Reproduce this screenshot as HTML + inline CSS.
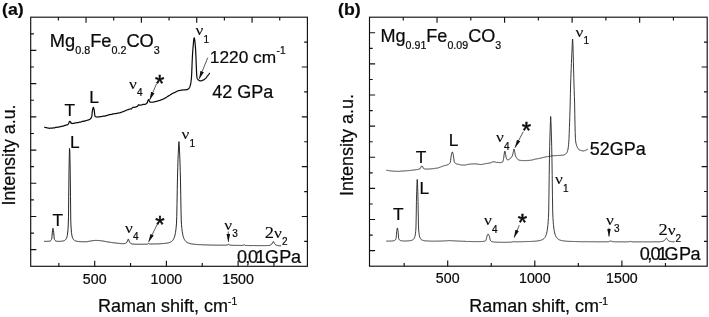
<!DOCTYPE html>
<html lang="en"><head><meta charset="utf-8"><title>Raman spectra</title>
<style>html,body{margin:0;padding:0;background:#fff;}svg{display:block;}text{font-family:"Liberation Sans",Arial,sans-serif;fill:#0a0a0a;stroke:#0a0a0a;stroke-width:0.22px;}.s{font-family:"Liberation Serif","DejaVu Serif",serif;stroke-width:0.1px;}</style></head><body>
<svg width="709" height="317" viewBox="0 0 709 317">
<rect width="709" height="317" fill="#fff"/>
<defs><marker id="ah" viewBox="0 0 10 10" refX="9.5" refY="5" markerWidth="8.4" markerHeight="8.4" orient="auto" markerUnits="userSpaceOnUse"><path d="M0,2.8 L10,5 L0,7.2 Z" fill="#111"/></marker></defs>
<g stroke="#111" stroke-width="1.15" fill="none" stroke-linecap="butt">
<rect x="30.70" y="17.20" width="276.70" height="249.10"/>
<path d="M58.85,266.30 v-3.20 M94.70,266.30 v-5.60 M130.55,266.30 v-3.20 M166.40,266.30 v-5.60 M202.25,266.30 v-3.20 M238.10,266.30 v-5.60 M273.95,266.30 v-3.20 M58.37,17.20 v3.20 M86.04,17.20 v5.60 M113.71,17.20 v3.20 M141.38,17.20 v5.60 M169.05,17.20 v3.20 M196.72,17.20 v5.60 M224.39,17.20 v3.20 M252.06,17.20 v5.60 M279.73,17.20 v3.20 M30.70,33.81 h3.20 M30.70,50.41 h5.60 M30.70,67.02 h3.20 M30.70,83.63 h5.60 M30.70,100.23 h3.20 M30.70,116.84 h5.60 M30.70,133.45 h3.20 M30.70,150.05 h5.60 M30.70,166.66 h3.20 M30.70,183.27 h5.60 M30.70,199.87 h3.20 M30.70,216.48 h5.60 M30.70,233.09 h3.20 M30.70,249.69 h5.60 M307.40,42.11 h-3.20 M307.40,67.02 h-5.60 M307.40,91.93 h-3.20 M307.40,116.84 h-5.60 M307.40,141.75 h-3.20 M307.40,166.66 h-5.60 M307.40,191.57 h-3.20 M307.40,216.48 h-5.60 M307.40,241.39 h-3.20"/>
</g>
<g stroke="#111" stroke-width="1.15" fill="none" stroke-linecap="butt">
<rect x="369.50" y="17.20" width="337.70" height="249.00"/>
<path d="M404.15,266.20 v-3.20 M447.70,266.20 v-5.60 M491.25,266.20 v-3.20 M534.80,266.20 v-5.60 M578.35,266.20 v-3.20 M621.90,266.20 v-5.60 M665.45,266.20 v-3.20 M403.27,17.20 v3.20 M437.04,17.20 v5.60 M470.81,17.20 v3.20 M504.58,17.20 v5.60 M538.35,17.20 v3.20 M572.12,17.20 v5.60 M605.89,17.20 v3.20 M639.66,17.20 v5.60 M673.43,17.20 v3.20 M369.50,32.76 h5.60 M369.50,48.33 h3.20 M369.50,63.89 h5.60 M369.50,79.45 h3.20 M369.50,95.01 h5.60 M369.50,110.58 h3.20 M369.50,126.14 h5.60 M369.50,141.70 h3.20 M369.50,157.26 h5.60 M369.50,172.82 h3.20 M369.50,188.39 h5.60 M369.50,203.95 h3.20 M369.50,219.51 h5.60 M369.50,235.07 h3.20 M369.50,250.64 h5.60 M707.20,42.10 h-3.20 M707.20,67.00 h-5.60 M707.20,91.90 h-3.20 M707.20,116.80 h-5.60 M707.20,141.70 h-3.20 M707.20,166.60 h-5.60 M707.20,191.50 h-3.20 M707.20,216.40 h-5.60 M707.20,241.30 h-3.20"/>
</g>
<g stroke="#1a1a1a" stroke-width="0.95" fill="none" stroke-linejoin="round" stroke-linecap="round">
<path d="M44.50,241.35 L44.75,241.35 L45.00,241.34 L45.25,241.31 L45.50,241.32 L45.75,241.31 L46.00,241.30 L46.25,241.36 L46.50,241.36 L46.75,241.39 L47.00,241.38 L47.25,241.38 L47.50,241.30 L47.75,241.28 L48.00,241.28 L48.25,241.26 L48.50,241.27 L48.75,241.25 L49.00,241.23 L49.25,241.20 L49.50,241.17 L49.75,241.08 L50.00,241.00 L50.25,240.91 L50.50,240.78 L50.75,240.59 L51.00,240.35 L51.25,240.03 L51.50,239.53 L51.75,238.77 L52.00,236.28 L52.25,232.95 L52.50,230.79 L52.75,229.34 L53.00,228.31 L53.25,229.31 L53.50,230.76 L53.75,232.88 L54.00,236.23 L54.25,238.79 L54.50,239.50 L54.75,239.99 L55.00,240.35 L55.25,240.59 L55.50,240.79 L55.75,240.94 L56.00,241.07 L56.25,241.17 L56.50,241.23 L56.75,241.24 L57.00,241.28 L57.25,241.32 L57.50,241.33 L57.75,241.34 L58.00,241.37 L58.25,241.33 L58.50,241.34 L58.75,241.36 L59.00,241.35 L59.25,241.34 L59.50,241.36 L59.75,241.36 L60.00,241.31 L60.25,241.31 L60.50,241.30 L60.75,241.32 L61.00,241.25 L61.25,241.25 L61.50,241.25 L61.75,241.20 L62.00,241.17 L62.25,241.14 L62.50,241.11 L62.75,241.04 L63.00,241.02 L63.25,240.93 L63.50,240.87 L63.75,240.76 L64.00,240.71 L64.25,240.59 L64.50,240.48 L64.75,240.36 L65.00,240.22 L65.25,239.99 L65.50,239.73 L65.75,239.42 L66.00,239.08 L66.25,238.64 L66.50,238.12 L66.75,237.47 L67.00,236.65 L67.25,235.55 L67.50,234.08 L67.75,232.04 L68.00,229.18 L68.25,224.96 L68.50,216.18 L68.75,191.05 L69.00,170.81 L69.25,157.49 L69.50,148.42 L69.75,149.95 L70.00,159.67 L70.25,174.11 L70.50,196.41 L70.75,220.06 L71.00,225.99 L71.25,229.95 L71.50,232.65 L71.75,234.57 L72.00,235.91 L72.25,236.94 L72.50,237.69 L72.75,238.30 L73.00,238.74 L73.25,239.20 L73.50,239.55 L73.75,239.82 L74.00,240.02 L74.25,240.24 L74.50,240.39 L74.75,240.53 L75.00,240.71 L75.25,240.83 L75.50,240.95 L75.75,241.04 L76.00,241.13 L76.25,241.18 L76.50,241.26 L76.75,241.29 L77.00,241.33 L77.25,241.33 L77.50,241.39 L77.75,241.41 L78.00,241.46 L78.25,241.48 L78.50,241.53 L78.75,241.52 L79.00,241.52 L79.25,241.55 L79.50,241.62 L79.75,241.63 L80.00,241.65 L80.25,241.66 L80.50,241.64 L80.75,241.63 L81.00,241.66 L81.25,241.67 L81.50,241.71 L81.75,241.74 L82.00,241.74 L82.25,241.71 L82.50,241.71 L82.75,241.71 L83.00,241.70 L83.25,241.69 L83.50,241.70 L83.75,241.71 L84.00,241.72 L84.25,241.73 L84.50,241.73 L84.75,241.76 L85.00,241.77 L85.25,241.78 L85.50,241.75 L85.75,241.77 L86.00,241.74 L86.25,241.73 L86.50,241.70 L86.75,241.72 L87.00,241.70 L87.25,241.67 L87.50,241.65 L87.75,241.59 L88.00,241.52 L88.25,241.46 L88.50,241.40 L88.75,241.35 L89.00,241.32 L89.25,241.30 L89.50,241.23 L89.75,241.18 L90.00,241.10 L90.25,241.04 L90.50,240.96 L90.75,240.93 L91.00,240.90 L91.25,240.89 L91.50,240.84 L91.75,240.84 L92.00,240.79 L92.25,240.74 L92.50,240.67 L92.75,240.64 L93.00,240.59 L93.25,240.59 L93.50,240.58 L93.75,240.57 L94.00,240.59 L94.25,240.57 L94.50,240.54 L94.75,240.51 L95.00,240.46 L95.25,240.43 L95.50,240.39 L95.75,240.39 L96.00,240.38 L96.25,240.43 L96.50,240.42 L96.75,240.43 L97.00,240.44 L97.25,240.44 L97.50,240.43 L97.75,240.45 L98.00,240.48 L98.25,240.49 L98.50,240.51 L98.75,240.53 L99.00,240.52 L99.25,240.54 L99.50,240.56 L99.75,240.61 L100.00,240.67 L100.25,240.70 L100.50,240.73 L100.75,240.78 L101.00,240.78 L101.25,240.80 L101.50,240.85 L101.75,240.85 L102.00,240.88 L102.25,240.92 L102.50,240.95 L102.75,240.97 L103.00,241.04 L103.25,241.10 L103.50,241.12 L103.75,241.15 L104.00,241.21 L104.25,241.24 L104.50,241.30 L104.75,241.36 L105.00,241.40 L105.25,241.44 L105.50,241.49 L105.75,241.55 L106.00,241.59 L106.25,241.65 L106.50,241.72 L106.75,241.76 L107.00,241.80 L107.25,241.84 L107.50,241.89 L107.75,241.93 L108.00,241.98 L108.25,241.96 L108.50,242.04 L108.75,242.06 L109.00,242.09 L109.25,242.11 L109.50,242.15 L109.75,242.17 L110.00,242.22 L110.25,242.27 L110.50,242.34 L110.75,242.40 L111.00,242.43 L111.25,242.46 L111.50,242.49 L111.75,242.51 L112.00,242.54 L112.25,242.60 L112.50,242.62 L112.75,242.64 L113.00,242.69 L113.25,242.74 L113.50,242.75 L113.75,242.78 L114.00,242.81 L114.25,242.85 L114.50,242.83 L114.75,242.87 L115.00,242.92 L115.25,242.94 L115.50,242.98 L115.75,243.05 L116.00,243.07 L116.25,243.08 L116.50,243.10 L116.75,243.11 L117.00,243.16 L117.25,243.19 L117.50,243.25 L117.75,243.30 L118.00,243.36 L118.25,243.36 L118.50,243.37 L118.75,243.36 L119.00,243.40 L119.25,243.39 L119.50,243.40 L119.75,243.46 L120.00,243.49 L120.25,243.48 L120.50,243.51 L120.75,243.56 L121.00,243.57 L121.25,243.61 L121.50,243.67 L121.75,243.70 L122.00,243.67 L122.25,243.67 L122.50,243.65 L122.75,243.64 L123.00,243.64 L123.25,243.66 L123.50,243.67 L123.75,243.66 L124.00,243.63 L124.25,243.59 L124.50,243.54 L124.75,243.48 L125.00,243.42 L125.25,243.35 L125.50,243.26 L125.75,243.19 L126.00,243.08 L126.25,242.96 L126.50,242.76 L126.75,242.47 L127.00,242.07 L127.25,241.56 L127.50,240.86 L127.75,240.14 L128.00,239.50 L128.25,239.11 L128.50,239.28 L128.75,239.85 L129.00,240.59 L129.25,241.30 L129.50,241.92 L129.75,242.40 L130.00,242.75 L130.25,243.00 L130.50,243.25 L130.75,243.44 L131.00,243.55 L131.25,243.68 L131.50,243.78 L131.75,243.81 L132.00,243.88 L132.25,243.94 L132.50,244.02 L132.75,244.04 L133.00,244.07 L133.25,244.10 L133.50,244.11 L133.75,244.10 L134.00,244.12 L134.25,244.17 L134.50,244.16 L134.75,244.18 L135.00,244.14 L135.25,244.13 L135.50,244.15 L135.75,244.15 L136.00,244.15 L136.25,244.17 L136.50,244.20 L136.75,244.18 L137.00,244.18 L137.25,244.20 L137.50,244.23 L137.75,244.23 L138.00,244.22 L138.25,244.27 L138.50,244.26 L138.75,244.26 L139.00,244.24 L139.25,244.24 L139.50,244.23 L139.75,244.22 L140.00,244.24 L140.25,244.25 L140.50,244.28 L140.75,244.27 L141.00,244.27 L141.25,244.22 L141.50,244.22 L141.75,244.21 L142.00,244.19 L142.25,244.20 L142.50,244.22 L142.75,244.21 L143.00,244.17 L143.25,244.19 L143.50,244.18 L143.75,244.17 L144.00,244.15 L144.25,244.16 L144.50,244.16 L144.75,244.16 L145.00,244.14 L145.25,244.18 L145.50,244.20 L145.75,244.18 L146.00,244.17 L146.25,244.19 L146.50,244.15 L146.75,244.12 L147.00,244.06 L147.25,244.03 L147.50,243.95 L147.75,243.89 L148.00,243.72 L148.25,243.59 L148.50,243.46 L148.75,243.46 L149.00,243.56 L149.25,243.74 L149.50,243.85 L149.75,243.90 L150.00,243.95 L150.25,243.99 L150.50,244.02 L150.75,244.02 L151.00,244.04 L151.25,244.05 L151.50,244.05 L151.75,244.01 L152.00,243.99 L152.25,243.99 L152.50,243.97 L152.75,243.94 L153.00,243.95 L153.25,243.97 L153.50,243.95 L153.75,243.97 L154.00,243.95 L154.25,243.95 L154.50,243.91 L154.75,243.90 L155.00,243.89 L155.25,243.91 L155.50,243.88 L155.75,243.89 L156.00,243.91 L156.25,243.89 L156.50,243.89 L156.75,243.91 L157.00,243.89 L157.25,243.87 L157.50,243.85 L157.75,243.86 L158.00,243.85 L158.25,243.87 L158.50,243.87 L158.75,243.86 L159.00,243.85 L159.25,243.81 L159.50,243.79 L159.75,243.79 L160.00,243.77 L160.25,243.74 L160.50,243.74 L160.75,243.74 L161.00,243.75 L161.25,243.75 L161.50,243.73 L161.75,243.68 L162.00,243.64 L162.25,243.58 L162.50,243.55 L162.75,243.54 L163.00,243.53 L163.25,243.50 L163.50,243.49 L163.75,243.46 L164.00,243.44 L164.25,243.45 L164.50,243.41 L164.75,243.36 L165.00,243.36 L165.25,243.32 L165.50,243.25 L165.75,243.23 L166.00,243.22 L166.25,243.17 L166.50,243.15 L166.75,243.13 L167.00,243.12 L167.25,243.10 L167.50,243.06 L167.75,243.02 L168.00,242.98 L168.25,242.90 L168.50,242.80 L168.75,242.73 L169.00,242.64 L169.25,242.57 L169.50,242.47 L169.75,242.41 L170.00,242.30 L170.25,242.22 L170.50,242.08 L170.75,241.94 L171.00,241.80 L171.25,241.63 L171.50,241.44 L171.75,241.25 L172.00,241.05 L172.25,240.84 L172.50,240.58 L172.75,240.29 L173.00,239.96 L173.25,239.60 L173.50,239.13 L173.75,238.65 L174.00,238.11 L174.25,237.50 L174.50,236.76 L174.75,235.93 L175.00,234.93 L175.25,233.77 L175.50,232.38 L175.75,230.70 L176.00,228.67 L176.25,226.19 L176.50,223.06 L176.75,216.68 L177.00,204.44 L177.25,189.57 L177.50,177.14 L177.75,167.73 L178.00,159.82 L178.25,153.42 L178.50,148.11 L178.75,143.69 L179.00,141.64 L179.25,145.37 L179.50,150.16 L179.75,155.86 L180.00,162.90 L180.25,171.44 L180.50,181.94 L180.75,195.52 L181.00,209.84 L181.25,221.01 L181.50,224.53 L181.75,227.38 L182.00,229.71 L182.25,231.59 L182.50,233.17 L182.75,234.51 L183.00,235.63 L183.25,236.61 L183.50,237.43 L183.75,238.10 L184.00,238.73 L184.25,239.27 L184.50,239.69 L184.75,240.06 L185.00,240.41 L185.25,240.72 L185.50,240.99 L185.75,241.29 L186.00,241.58 L186.25,241.80 L186.50,241.98 L186.75,242.18 L187.00,242.35 L187.25,242.50 L187.50,242.64 L187.75,242.77 L188.00,242.87 L188.25,242.99 L188.50,243.12 L188.75,243.22 L189.00,243.26 L189.25,243.34 L189.50,243.40 L189.75,243.45 L190.00,243.54 L190.25,243.63 L190.50,243.68 L190.75,243.75 L191.00,243.77 L191.25,243.82 L191.50,243.87 L191.75,243.94 L192.00,243.97 L192.25,244.04 L192.50,244.07 L192.75,244.10 L193.00,244.12 L193.25,244.15 L193.50,244.17 L193.75,244.20 L194.00,244.24 L194.25,244.26 L194.50,244.27 L194.75,244.28 L195.00,244.30 L195.25,244.32 L195.50,244.37 L195.75,244.41 L196.00,244.43 L196.25,244.41 L196.50,244.45 L196.75,244.46 L197.00,244.45 L197.25,244.49 L197.50,244.55 L197.75,244.57 L198.00,244.58 L198.25,244.66 L198.50,244.68 L198.75,244.65 L199.00,244.66 L199.25,244.66 L199.50,244.64 L199.75,244.59 L200.00,244.63 L200.25,244.63 L200.50,244.65 L200.75,244.66 L201.00,244.72 L201.25,244.72 L201.50,244.73 L201.75,244.74 L202.00,244.78 L202.25,244.77 L202.50,244.81 L202.75,244.83 L203.00,244.82 L203.25,244.84 L203.50,244.84 L203.75,244.84 L204.00,244.84 L204.25,244.86 L204.50,244.82 L204.75,244.83 L205.00,244.84 L205.25,244.86 L205.50,244.86 L205.75,244.88 L206.00,244.91 L206.25,244.88 L206.50,244.86 L206.75,244.87 L207.00,244.87 L207.25,244.86 L207.50,244.88 L207.75,244.91 L208.00,244.91 L208.25,244.96 L208.50,244.99 L208.75,245.02 L209.00,245.03 L209.25,245.03 L209.50,244.99 L209.75,244.97 L210.00,244.92 L210.25,244.92 L210.50,244.95 L210.75,245.00 L211.00,245.03 L211.25,245.05 L211.50,245.07 L211.75,245.05 L212.00,245.05 L212.25,245.03 L212.50,245.07 L212.75,245.11 L213.00,245.14 L213.25,245.17 L213.50,245.18 L213.75,245.16 L214.00,245.15 L214.25,245.16 L214.50,245.12 L214.75,245.13 L215.00,245.11 L215.25,245.09 L215.50,245.08 L215.75,245.10 L216.00,245.09 L216.25,245.09 L216.50,245.11 L216.75,245.11 L217.00,245.13 L217.25,245.14 L217.50,245.15 L217.75,245.18 L218.00,245.17 L218.25,245.16 L218.50,245.17 L218.75,245.16 L219.00,245.13 L219.25,245.13 L219.50,245.15 L219.75,245.16 L220.00,245.21 L220.25,245.18 L220.50,245.18 L220.75,245.18 L221.00,245.16 L221.25,245.14 L221.50,245.14 L221.75,245.16 L222.00,245.17 L222.25,245.16 L222.50,245.16 L222.75,245.22 L223.00,245.16 L223.25,245.15 L223.50,245.19 L223.75,245.21 L224.00,245.19 L224.25,245.21 L224.50,245.24 L224.75,245.18 L225.00,245.18 L225.25,245.17 L225.50,245.16 L225.75,245.14 L226.00,245.12 L226.25,245.09 L226.50,245.05 L226.75,245.02 L227.00,244.95 L227.25,244.91 L227.50,244.81 L227.75,244.67 L228.00,244.53 L228.25,244.41 L228.50,244.40 L228.75,244.50 L229.00,244.66 L229.25,244.81 L229.50,244.92 L229.75,245.01 L230.00,245.07 L230.25,245.11 L230.50,245.18 L230.75,245.21 L231.00,245.22 L231.25,245.23 L231.50,245.24 L231.75,245.20 L232.00,245.23 L232.25,245.23 L232.50,245.27 L232.75,245.31 L233.00,245.35 L233.25,245.37 L233.50,245.38 L233.75,245.38 L234.00,245.35 L234.25,245.32 L234.50,245.32 L234.75,245.35 L235.00,245.37 L235.25,245.38 L235.50,245.43 L235.75,245.43 L236.00,245.40 L236.25,245.38 L236.50,245.37 L236.75,245.35 L237.00,245.39 L237.25,245.40 L237.50,245.40 L237.75,245.41 L238.00,245.42 L238.25,245.36 L238.50,245.37 L238.75,245.40 L239.00,245.42 L239.25,245.43 L239.50,245.44 L239.75,245.41 L240.00,245.42 L240.25,245.44 L240.50,245.41 L240.75,245.43 L241.00,245.46 L241.25,245.45 L241.50,245.43 L241.75,245.45 L242.00,245.44 L242.25,245.44 L242.50,245.42 L242.75,245.37 L243.00,245.31 L243.25,245.25 L243.50,245.15 L243.75,245.02 L244.00,244.83 L244.25,244.69 L244.50,244.80 L244.75,245.07 L245.00,245.26 L245.25,245.34 L245.50,245.41 L245.75,245.46 L246.00,245.49 L246.25,245.51 L246.50,245.52 L246.75,245.53 L247.00,245.52 L247.25,245.51 L247.50,245.47 L247.75,245.49 L248.00,245.47 L248.25,245.49 L248.50,245.49 L248.75,245.52 L249.00,245.55 L249.25,245.57 L249.50,245.60 L249.75,245.63 L250.00,245.65 L250.25,245.63 L250.50,245.60 L250.75,245.60 L251.00,245.59 L251.25,245.54 L251.50,245.53 L251.75,245.54 L252.00,245.51 L252.25,245.50 L252.50,245.54 L252.75,245.57 L253.00,245.57 L253.25,245.55 L253.50,245.56 L253.75,245.51 L254.00,245.50 L254.25,245.52 L254.50,245.54 L254.75,245.54 L255.00,245.58 L255.25,245.61 L255.50,245.64 L255.75,245.65 L256.00,245.67 L256.25,245.66 L256.50,245.64 L256.75,245.61 L257.00,245.62 L257.25,245.59 L257.50,245.58 L257.75,245.58 L258.00,245.61 L258.25,245.57 L258.50,245.59 L258.75,245.60 L259.00,245.61 L259.25,245.59 L259.50,245.61 L259.75,245.62 L260.00,245.64 L260.25,245.65 L260.50,245.64 L260.75,245.61 L261.00,245.61 L261.25,245.61 L261.50,245.60 L261.75,245.64 L262.00,245.67 L262.25,245.64 L262.50,245.64 L262.75,245.63 L263.00,245.63 L263.25,245.62 L263.50,245.64 L263.75,245.62 L264.00,245.63 L264.25,245.60 L264.50,245.61 L264.75,245.60 L265.00,245.63 L265.25,245.61 L265.50,245.60 L265.75,245.59 L266.00,245.58 L266.25,245.57 L266.50,245.54 L266.75,245.53 L267.00,245.54 L267.25,245.57 L267.50,245.53 L267.75,245.55 L268.00,245.56 L268.25,245.55 L268.50,245.50 L268.75,245.51 L269.00,245.46 L269.25,245.44 L269.50,245.36 L269.75,245.32 L270.00,245.20 L270.25,245.10 L270.50,244.98 L270.75,244.86 L271.00,244.70 L271.25,244.52 L271.50,244.33 L271.75,244.02 L272.00,243.65 L272.25,243.19 L272.50,242.71 L272.75,242.14 L273.00,241.72 L273.25,241.56 L273.50,241.67 L273.75,242.02 L274.00,242.53 L274.25,243.06 L274.50,243.49 L274.75,243.84 L275.00,244.16 L275.25,244.42 L275.50,244.65 L275.75,244.84 L276.00,245.02 L276.25,245.12 L276.50,245.24 L276.75,245.27 L277.00,245.33 L277.25,245.40 L277.50,245.46 L277.75,245.50 L278.00,245.55 L278.25,245.61 L278.50,245.66 L278.75,245.66 L279.00,245.72 L279.25,245.74 L279.50,245.76 L279.75,245.73 L280.00,245.78 L280.25,245.75 L280.50,245.76 L280.75,245.75"/>
<path stroke-width="1.2" stroke="#0a0a0a" d="M44.70,127.24 L44.90,127.33 L45.10,127.35 L45.30,127.41 L45.50,127.46 L45.70,127.52 L45.90,127.60 L46.10,127.65 L46.30,127.66 L46.50,127.64 L46.70,127.65 L46.90,127.77 L47.10,127.81 L47.30,127.90 L47.50,127.96 L47.70,127.98 L47.90,128.10 L48.10,128.12 L48.30,128.20 L48.50,128.15 L48.70,128.17 L48.90,128.24 L49.10,128.20 L49.30,128.30 L49.50,128.25 L49.70,128.24 L49.90,128.30 L50.10,128.22 L50.30,128.19 L50.50,128.19 L50.70,128.17 L50.90,128.15 L51.10,128.24 L51.30,128.20 L51.50,128.16 L51.70,128.16 L51.90,128.08 L52.10,128.11 L52.30,128.12 L52.50,128.16 L52.70,128.05 L52.90,127.97 L53.10,127.91 L53.30,127.85 L53.50,127.90 L53.70,127.80 L53.90,127.91 L54.10,127.84 L54.30,127.80 L54.50,127.88 L54.70,127.76 L54.90,127.77 L55.10,127.60 L55.30,127.49 L55.50,127.45 L55.70,127.37 L55.90,127.41 L56.10,127.32 L56.30,127.30 L56.50,127.33 L56.70,127.30 L56.90,127.35 L57.10,127.27 L57.30,127.17 L57.50,127.16 L57.70,127.14 L57.90,127.13 L58.10,127.19 L58.30,127.17 L58.50,127.10 L58.70,127.06 L58.90,126.94 L59.10,126.85 L59.30,126.88 L59.50,126.81 L59.70,126.80 L59.90,126.83 L60.10,126.70 L60.30,126.70 L60.50,126.67 L60.70,126.60 L60.90,126.61 L61.10,126.51 L61.30,126.36 L61.50,126.31 L61.70,126.21 L61.90,126.23 L62.10,126.28 L62.30,126.22 L62.50,126.21 L62.70,126.19 L62.90,126.17 L63.10,126.16 L63.30,126.12 L63.50,126.00 L63.70,125.90 L63.90,125.85 L64.10,125.78 L64.30,125.74 L64.50,125.64 L64.70,125.49 L64.90,125.37 L65.10,125.28 L65.30,125.31 L65.50,125.36 L65.70,125.32 L65.90,125.21 L66.10,125.12 L66.30,125.03 L66.50,124.94 L66.70,124.97 L66.90,124.87 L67.10,124.83 L67.30,124.82 L67.50,124.72 L67.70,124.63 L67.90,124.43 L68.10,124.28 L68.30,124.07 L68.50,123.90 L68.70,123.53 L68.90,122.79 L69.10,122.26 L69.30,121.85 L69.50,121.62 L69.70,121.46 L69.90,121.32 L70.10,121.41 L70.30,121.55 L70.50,121.84 L70.70,122.29 L70.90,122.90 L71.10,123.20 L71.30,123.25 L71.50,123.39 L71.70,123.46 L71.90,123.46 L72.10,123.54 L72.30,123.56 L72.50,123.52 L72.70,123.51 L72.90,123.43 L73.10,123.42 L73.30,123.35 L73.50,123.28 L73.70,123.30 L73.90,123.19 L74.10,123.19 L74.30,123.23 L74.50,123.18 L74.70,123.18 L74.90,123.16 L75.10,123.12 L75.30,123.02 L75.50,122.93 L75.70,122.91 L75.90,122.87 L76.10,122.81 L76.30,122.77 L76.50,122.69 L76.70,122.60 L76.90,122.66 L77.10,122.68 L77.30,122.66 L77.50,122.62 L77.70,122.59 L77.90,122.62 L78.10,122.53 L78.30,122.59 L78.50,122.57 L78.70,122.47 L78.90,122.46 L79.10,122.32 L79.30,122.20 L79.50,122.16 L79.70,122.16 L79.90,122.21 L80.10,122.24 L80.30,122.21 L80.50,122.10 L80.70,121.96 L80.90,121.89 L81.10,121.82 L81.30,121.80 L81.50,121.74 L81.70,121.67 L81.90,121.54 L82.10,121.49 L82.30,121.47 L82.50,121.43 L82.70,121.46 L82.90,121.41 L83.10,121.46 L83.30,121.37 L83.50,121.22 L83.70,121.21 L83.90,121.16 L84.10,121.21 L84.30,121.26 L84.50,121.19 L84.70,121.09 L84.90,120.93 L85.10,120.85 L85.30,120.80 L85.50,120.72 L85.70,120.80 L85.90,120.71 L86.10,120.62 L86.30,120.63 L86.50,120.48 L86.70,120.44 L86.90,120.34 L87.10,120.21 L87.30,120.24 L87.50,120.24 L87.70,120.25 L87.90,120.19 L88.10,120.09 L88.30,120.01 L88.50,119.87 L88.70,119.80 L88.90,119.68 L89.10,119.63 L89.30,119.57 L89.50,119.50 L89.70,119.46 L89.90,119.25 L90.10,119.06 L90.30,118.92 L90.50,118.68 L90.70,118.50 L90.90,118.32 L91.10,117.99 L91.30,117.66 L91.50,117.25 L91.70,116.77 L91.90,115.40 L92.10,113.41 L92.30,111.69 L92.50,110.34 L92.70,109.35 L92.90,108.54 L93.10,107.82 L93.30,107.32 L93.50,107.66 L93.70,108.17 L93.90,108.85 L94.10,109.73 L94.30,110.89 L94.50,112.56 L94.70,114.43 L94.90,115.69 L95.10,116.14 L95.30,116.45 L95.50,116.61 L95.70,116.80 L95.90,116.88 L96.10,116.89 L96.30,116.97 L96.50,116.99 L96.70,116.98 L96.90,117.06 L97.10,117.08 L97.30,117.06 L97.50,117.04 L97.70,117.01 L97.90,116.97 L98.10,116.96 L98.30,116.89 L98.50,116.88 L98.70,116.92 L98.90,116.90 L99.10,116.95 L99.30,116.94 L99.50,116.83 L99.70,116.75 L99.90,116.72 L100.10,116.66 L100.30,116.71 L100.50,116.68 L100.70,116.71 L100.90,116.63 L101.10,116.53 L101.30,116.54 L101.50,116.52 L101.70,116.53 L101.90,116.44 L102.10,116.43 L102.30,116.35 L102.50,116.30 L102.70,116.31 L102.90,116.23 L103.10,116.19 L103.30,116.23 L103.50,116.17 L103.70,116.25 L103.90,116.20 L104.10,116.12 L104.30,116.16 L104.50,116.03 L104.70,116.08 L104.90,116.09 L105.10,116.01 L105.30,115.94 L105.50,115.78 L105.70,115.67 L105.90,115.66 L106.10,115.61 L106.30,115.64 L106.50,115.60 L106.70,115.52 L106.90,115.53 L107.10,115.34 L107.30,115.25 L107.50,115.23 L107.70,115.14 L107.90,115.17 L108.10,115.17 L108.30,115.07 L108.50,115.01 L108.70,114.91 L108.90,114.77 L109.10,114.79 L109.30,114.71 L109.50,114.68 L109.70,114.76 L109.90,114.71 L110.10,114.67 L110.30,114.63 L110.50,114.52 L110.70,114.39 L110.90,114.39 L111.10,114.37 L111.30,114.33 L111.50,114.35 L111.70,114.32 L111.90,114.34 L112.10,114.35 L112.30,114.21 L112.50,114.18 L112.70,114.02 L112.90,113.86 L113.10,113.92 L113.30,113.81 L113.50,113.81 L113.70,113.87 L113.90,113.78 L114.10,113.74 L114.30,113.73 L114.50,113.70 L114.70,113.71 L114.90,113.65 L115.10,113.57 L115.30,113.48 L115.50,113.51 L115.70,113.57 L115.90,113.60 L116.10,113.61 L116.30,113.49 L116.50,113.44 L116.70,113.39 L116.90,113.27 L117.10,113.24 L117.30,113.21 L117.50,113.11 L117.70,113.14 L117.90,113.14 L118.10,113.12 L118.30,113.09 L118.50,113.02 L118.70,113.01 L118.90,112.96 L119.10,112.91 L119.30,112.87 L119.50,112.83 L119.70,112.75 L119.90,112.75 L120.10,112.79 L120.30,112.68 L120.50,112.63 L120.70,112.52 L120.90,112.34 L121.10,112.34 L121.30,112.28 L121.50,112.21 L121.70,112.13 L121.90,112.00 L122.10,111.97 L122.30,111.91 L122.50,111.90 L122.70,111.81 L122.90,111.72 L123.10,111.69 L123.30,111.60 L123.50,111.52 L123.70,111.42 L123.90,111.34 L124.10,111.18 L124.30,111.12 L124.50,111.06 L124.70,111.00 L124.90,110.96 L125.10,110.87 L125.30,110.77 L125.50,110.61 L125.70,110.52 L125.90,110.46 L126.10,110.38 L126.30,110.29 L126.50,110.21 L126.70,110.03 L126.90,109.97 L127.10,109.91 L127.30,109.86 L127.50,109.83 L127.70,109.72 L127.90,109.69 L128.10,109.65 L128.30,109.58 L128.50,109.55 L128.70,109.46 L128.90,109.32 L129.10,109.33 L129.30,109.22 L129.50,109.15 L129.70,109.09 L129.90,109.02 L130.10,108.98 L130.30,108.94 L130.50,108.90 L130.70,108.87 L130.90,108.95 L131.10,109.09 L131.30,109.02 L131.50,108.81 L131.70,108.53 L131.90,108.23 L132.10,108.10 L132.30,107.86 L132.50,107.74 L132.70,107.69 L132.90,107.48 L133.10,107.33 L133.30,107.29 L133.50,107.27 L133.70,107.37 L133.90,107.46 L134.10,107.38 L134.30,107.36 L134.50,107.35 L134.70,107.20 L134.90,107.23 L135.10,107.16 L135.30,107.06 L135.50,107.13 L135.70,107.03 L135.90,106.97 L136.10,106.97 L136.30,106.84 L136.50,106.74 L136.70,106.65 L136.90,106.51 L137.10,106.46 L137.30,106.35 L137.50,106.24 L137.70,106.09 L137.90,105.79 L138.10,105.39 L138.30,104.99 L138.50,104.78 L138.70,104.80 L138.90,104.99 L139.10,105.15 L139.30,105.17 L139.50,105.21 L139.70,105.20 L139.90,105.17 L140.10,105.11 L140.30,105.03 L140.50,105.02 L140.70,105.02 L140.90,105.06 L141.10,105.06 L141.30,104.98 L141.50,104.94 L141.70,104.88 L141.90,104.78 L142.10,104.80 L142.30,104.73 L142.50,104.70 L142.70,104.63 L142.90,104.46 L143.10,104.45 L143.30,104.33 L143.50,104.38 L143.70,104.40 L143.90,104.33 L144.10,104.31 L144.30,104.31 L144.50,104.35 L144.70,104.37 L144.90,104.42 L145.10,104.35 L145.30,104.31 L145.50,104.23 L145.70,104.15 L145.90,103.99 L146.10,103.81 L146.30,103.59 L146.50,103.41 L146.70,103.31 L146.90,103.07 L147.10,102.93 L147.30,102.72 L147.50,102.07 L147.70,101.36 L147.90,100.76 L148.10,100.25 L148.30,99.86 L148.50,99.59 L148.70,99.80 L148.90,100.06 L149.10,100.42 L149.30,100.81 L149.50,101.44 L149.70,101.96 L149.90,102.00 L150.10,102.05 L150.30,102.06 L150.50,102.06 L150.70,102.21 L150.90,102.28 L151.10,102.25 L151.30,102.25 L151.50,102.24 L151.70,102.18 L151.90,102.23 L152.10,102.25 L152.30,102.22 L152.50,102.25 L152.70,102.18 L152.90,102.16 L153.10,102.07 L153.30,102.06 L153.50,102.04 L153.70,102.07 L153.90,102.03 L154.10,101.97 L154.30,101.91 L154.50,101.79 L154.70,101.76 L154.90,101.70 L155.10,101.72 L155.30,101.65 L155.50,101.56 L155.70,101.55 L155.90,101.45 L156.10,101.40 L156.30,101.42 L156.50,101.36 L156.70,101.21 L156.90,101.16 L157.10,101.09 L157.30,101.03 L157.50,101.06 L157.70,101.08 L157.90,100.96 L158.10,100.85 L158.30,100.82 L158.50,100.69 L158.70,100.70 L158.90,100.68 L159.10,100.61 L159.30,100.61 L159.50,100.48 L159.70,100.37 L159.90,100.37 L160.10,100.26 L160.30,100.26 L160.50,100.18 L160.70,100.03 L160.90,99.95 L161.10,99.85 L161.30,99.78 L161.50,99.72 L161.70,99.67 L161.90,99.64 L162.10,99.58 L162.30,99.52 L162.50,99.45 L162.70,99.28 L162.90,99.13 L163.10,99.08 L163.30,99.01 L163.50,98.96 L163.70,98.94 L163.90,98.74 L164.10,98.54 L164.30,98.44 L164.50,98.26 L164.70,98.22 L164.90,98.14 L165.10,98.02 L165.30,98.04 L165.50,97.96 L165.70,97.85 L165.90,97.76 L166.10,97.51 L166.30,97.29 L166.50,97.19 L166.70,97.07 L166.90,96.96 L167.10,96.87 L167.30,96.73 L167.50,96.49 L167.70,96.38 L167.90,96.28 L168.10,96.15 L168.30,96.08 L168.50,95.99 L168.70,95.77 L168.90,95.70 L169.10,95.61 L169.30,95.52 L169.50,95.47 L169.70,95.28 L169.90,95.08 L170.10,94.86 L170.30,94.66 L170.50,94.53 L170.70,94.48 L170.90,94.46 L171.10,94.36 L171.30,94.32 L171.50,94.11 L171.70,93.93 L171.90,93.81 L172.10,93.60 L172.30,93.55 L172.50,93.46 L172.70,93.37 L172.90,93.31 L173.10,93.17 L173.30,93.05 L173.50,92.94 L173.70,92.87 L173.90,92.76 L174.10,92.68 L174.30,92.62 L174.50,92.56 L174.70,92.56 L174.90,92.46 L175.10,92.32 L175.30,92.11 L175.50,91.97 L175.70,91.93 L175.90,91.93 L176.10,91.80 L176.30,91.68 L176.50,91.52 L176.70,91.32 L176.90,91.34 L177.10,91.28 L177.30,91.19 L177.50,91.15 L177.70,90.99 L177.90,90.87 L178.10,90.78 L178.30,90.75 L178.50,90.68 L178.70,90.64 L178.90,90.65 L179.10,90.55 L179.30,90.60 L179.50,90.52 L179.70,90.46 L179.90,90.44 L180.10,90.45 L180.30,90.45 L180.50,90.45 L180.70,90.36 L180.90,90.23 L181.10,90.23 L181.30,90.15 L181.50,90.17 L181.70,90.17 L181.90,90.16 L182.10,90.20 L182.30,90.09 L182.50,90.12 L182.70,90.04 L182.90,89.95 L183.10,89.97 L183.30,89.91 L183.50,89.84 L183.70,89.79 L183.90,89.76 L184.10,89.73 L184.30,89.81 L184.50,89.86 L184.70,89.90 L184.90,89.86 L185.10,89.75 L185.30,89.73 L185.50,89.71 L185.70,89.74 L185.90,89.86 L186.10,89.83 L186.30,89.80 L186.50,89.68 L186.70,89.63 L186.90,89.61 L187.10,89.53 L187.30,89.56 L187.50,89.40 L187.70,89.26 L187.90,89.24 L188.10,89.12 L188.30,89.05 L188.50,88.94 L188.70,88.69 L188.90,88.44 L189.10,88.24 L189.30,87.92 L189.50,87.60 L189.70,87.20 L189.90,86.63 L190.10,86.01 L190.30,85.27 L190.50,84.53 L190.70,83.61 L190.90,82.48 L191.10,80.97 L191.30,79.22 L191.50,77.07 L191.70,73.35 L191.90,68.53 L192.10,63.07 L192.30,58.72 L192.50,55.07 L192.70,51.90 L192.90,49.23 L193.10,46.92 L193.30,44.48 L193.50,42.18 L193.70,40.10 L193.90,38.69 L194.10,37.90 L194.30,37.92 L194.50,38.56 L194.70,39.74 L194.90,41.38 L195.10,43.39 L195.30,45.71 L195.50,48.12 L195.70,51.40 L195.90,55.97 L196.10,60.86 L196.30,66.11 L196.50,71.04 L196.70,74.79 L196.90,77.04 L197.10,77.98 L197.30,78.50 L197.50,78.85 L197.70,79.18 L197.90,79.43 L198.10,79.71 L198.30,79.90 L198.50,80.09 L198.70,80.17 L198.90,80.38 L199.10,80.51 L199.30,80.58 L199.50,80.76 L199.70,80.79 L199.90,80.83 L200.10,80.90 L200.30,80.93 L200.50,80.94 L200.70,80.93 L200.90,80.93 L201.10,80.90 L201.30,80.81 L201.50,80.81 L201.70,80.71 L201.90,80.56 L202.10,80.49 L202.30,80.35 L202.50,80.27 L202.70,80.24 L202.90,80.24 L203.10,80.16 L203.30,80.10 L203.50,79.99 L203.70,79.85 L203.90,79.74 L204.10,79.58 L204.30,79.42 L204.50,79.27 L204.70,79.17 L204.90,78.99 L205.10,78.84 L205.30,78.65 L205.50,78.46 L205.70,78.25 L205.90,78.03 L206.10,77.79 L206.30,77.48 L206.50,77.26 L206.70,77.00 L206.90,76.66 L207.10,76.43 L207.30,76.21 L207.50,75.93 L207.70,75.73 L207.90,75.51 L208.10,75.24 L208.30,75.06 L208.50,74.76 L208.70,74.49 L208.90,74.16 L209.10,73.91 L209.30,73.63 L209.50,73.27"/>
<path stroke="#222" stroke-width="0.9" d="M386.70,241.08 L386.95,241.07 L387.20,241.06 L387.45,241.07 L387.70,241.09 L387.95,241.10 L388.20,241.11 L388.45,241.13 L388.70,241.12 L388.95,241.09 L389.20,241.06 L389.45,241.07 L389.70,241.03 L389.95,241.02 L390.20,241.04 L390.45,241.08 L390.70,241.08 L390.95,241.07 L391.20,241.08 L391.45,241.06 L391.70,241.03 L391.95,240.97 L392.20,240.97 L392.45,240.92 L392.70,240.87 L392.95,240.87 L393.20,240.86 L393.45,240.81 L393.70,240.76 L393.95,240.72 L394.20,240.61 L394.45,240.51 L394.70,240.40 L394.95,240.26 L395.20,240.05 L395.45,239.77 L395.70,239.34 L395.95,238.77 L396.20,237.68 L396.45,234.47 L396.70,231.67 L396.95,229.81 L397.20,228.53 L397.45,227.95 L397.70,229.02 L397.95,230.56 L398.20,232.73 L398.45,236.03 L398.70,238.43 L398.95,239.13 L399.20,239.59 L399.45,239.92 L399.70,240.15 L399.95,240.30 L400.20,240.44 L400.45,240.56 L400.70,240.63 L400.95,240.71 L401.20,240.78 L401.45,240.81 L401.70,240.82 L401.95,240.86 L402.20,240.86 L402.45,240.87 L402.70,240.89 L402.95,240.95 L403.20,240.98 L403.45,241.01 L403.70,241.02 L403.95,241.05 L404.20,241.05 L404.45,241.04 L404.70,241.04 L404.95,241.02 L405.20,240.99 L405.45,240.97 L405.70,240.95 L405.95,240.97 L406.20,240.96 L406.45,240.96 L406.70,240.96 L406.95,240.96 L407.20,240.95 L407.45,240.95 L407.70,240.93 L407.95,240.91 L408.20,240.89 L408.45,240.84 L408.70,240.83 L408.95,240.84 L409.20,240.80 L409.45,240.76 L409.70,240.76 L409.95,240.76 L410.20,240.72 L410.45,240.68 L410.70,240.63 L410.95,240.55 L411.20,240.45 L411.45,240.36 L411.70,240.32 L411.95,240.25 L412.20,240.15 L412.45,240.04 L412.70,239.90 L412.95,239.74 L413.20,239.53 L413.45,239.32 L413.70,239.04 L413.95,238.71 L414.20,238.27 L414.45,237.80 L414.70,237.13 L414.95,236.33 L415.20,235.17 L415.45,233.58 L415.70,231.32 L415.95,228.02 L416.20,216.92 L416.45,201.45 L416.70,191.39 L416.95,184.37 L417.20,179.45 L417.45,182.14 L417.70,188.26 L417.95,197.03 L418.20,210.16 L418.45,225.09 L418.70,230.16 L418.95,232.76 L419.20,234.59 L419.45,235.91 L419.70,236.89 L419.95,237.60 L420.20,238.17 L420.45,238.64 L420.70,238.97 L420.95,239.27 L421.20,239.54 L421.45,239.75 L421.70,239.89 L421.95,240.02 L422.20,240.14 L422.45,240.20 L422.70,240.27 L422.95,240.35 L423.20,240.42 L423.45,240.49 L423.70,240.54 L423.95,240.63 L424.20,240.68 L424.45,240.74 L424.70,240.77 L424.95,240.82 L425.20,240.84 L425.45,240.86 L425.70,240.86 L425.95,240.87 L426.20,240.86 L426.45,240.86 L426.70,240.90 L426.95,240.95 L427.20,240.96 L427.45,240.98 L427.70,241.00 L427.95,240.99 L428.20,240.99 L428.45,241.01 L428.70,241.02 L428.95,241.03 L429.20,241.04 L429.45,241.08 L429.70,241.10 L429.95,241.12 L430.20,241.12 L430.45,241.14 L430.70,241.15 L430.95,241.16 L431.20,241.17 L431.45,241.18 L431.70,241.20 L431.95,241.16 L432.20,241.15 L432.45,241.14 L432.70,241.16 L432.95,241.13 L433.20,241.15 L433.45,241.13 L433.70,241.14 L433.95,241.13 L434.20,241.16 L434.45,241.15 L434.70,241.16 L434.95,241.21 L435.20,241.21 L435.45,241.19 L435.70,241.21 L435.95,241.18 L436.20,241.14 L436.45,241.13 L436.70,241.10 L436.95,241.11 L437.20,241.14 L437.45,241.09 L437.70,241.10 L437.95,241.12 L438.20,241.09 L438.45,241.09 L438.70,241.09 L438.95,241.05 L439.20,241.06 L439.45,241.08 L439.70,241.08 L439.95,241.10 L440.20,241.11 L440.45,241.09 L440.70,241.05 L440.95,241.06 L441.20,241.05 L441.45,241.05 L441.70,241.05 L441.95,241.04 L442.20,241.03 L442.45,241.03 L442.70,241.00 L442.95,240.99 L443.20,240.99 L443.45,240.95 L443.70,240.93 L443.95,240.93 L444.20,240.92 L444.45,240.90 L444.70,240.89 L444.95,240.89 L445.20,240.85 L445.45,240.84 L445.70,240.85 L445.95,240.84 L446.20,240.81 L446.45,240.82 L446.70,240.80 L446.95,240.79 L447.20,240.75 L447.45,240.74 L447.70,240.72 L447.95,240.70 L448.20,240.65 L448.45,240.64 L448.70,240.63 L448.95,240.61 L449.20,240.63 L449.45,240.65 L449.70,240.67 L449.95,240.67 L450.20,240.67 L450.45,240.68 L450.70,240.69 L450.95,240.68 L451.20,240.69 L451.45,240.69 L451.70,240.67 L451.95,240.68 L452.20,240.70 L452.45,240.71 L452.70,240.74 L452.95,240.79 L453.20,240.83 L453.45,240.84 L453.70,240.87 L453.95,240.89 L454.20,240.89 L454.45,240.88 L454.70,240.91 L454.95,240.92 L455.20,240.93 L455.45,240.93 L455.70,240.94 L455.95,240.96 L456.20,240.98 L456.45,241.00 L456.70,241.03 L456.95,241.06 L457.20,241.05 L457.45,241.05 L457.70,241.06 L457.95,241.06 L458.20,241.04 L458.45,241.08 L458.70,241.09 L458.95,241.08 L459.20,241.12 L459.45,241.13 L459.70,241.13 L459.95,241.13 L460.20,241.16 L460.45,241.15 L460.70,241.17 L460.95,241.18 L461.20,241.20 L461.45,241.20 L461.70,241.22 L461.95,241.24 L462.20,241.25 L462.45,241.25 L462.70,241.28 L462.95,241.27 L463.20,241.27 L463.45,241.31 L463.70,241.29 L463.95,241.28 L464.20,241.28 L464.45,241.27 L464.70,241.27 L464.95,241.30 L465.20,241.35 L465.45,241.37 L465.70,241.43 L465.95,241.45 L466.20,241.49 L466.45,241.49 L466.70,241.51 L466.95,241.51 L467.20,241.50 L467.45,241.47 L467.70,241.45 L467.95,241.45 L468.20,241.42 L468.45,241.44 L468.70,241.45 L468.95,241.49 L469.20,241.49 L469.45,241.52 L469.70,241.52 L469.95,241.51 L470.20,241.50 L470.45,241.51 L470.70,241.50 L470.95,241.52 L471.20,241.55 L471.45,241.55 L471.70,241.53 L471.95,241.57 L472.20,241.57 L472.45,241.57 L472.70,241.56 L472.95,241.59 L473.20,241.60 L473.45,241.60 L473.70,241.62 L473.95,241.63 L474.20,241.62 L474.45,241.61 L474.70,241.61 L474.95,241.63 L475.20,241.65 L475.45,241.64 L475.70,241.64 L475.95,241.63 L476.20,241.59 L476.45,241.60 L476.70,241.60 L476.95,241.58 L477.20,241.58 L477.45,241.58 L477.70,241.56 L477.95,241.59 L478.20,241.60 L478.45,241.61 L478.70,241.59 L478.95,241.62 L479.20,241.61 L479.45,241.61 L479.70,241.61 L479.95,241.63 L480.20,241.59 L480.45,241.59 L480.70,241.58 L480.95,241.55 L481.20,241.53 L481.45,241.49 L481.70,241.46 L481.95,241.45 L482.20,241.48 L482.45,241.50 L482.70,241.51 L482.95,241.48 L483.20,241.46 L483.45,241.41 L483.70,241.34 L483.95,241.32 L484.20,241.26 L484.45,241.20 L484.70,241.11 L484.95,241.02 L485.20,240.88 L485.45,240.71 L485.70,240.48 L485.95,240.23 L486.20,239.67 L486.45,238.59 L486.70,237.39 L486.95,236.45 L487.20,235.72 L487.45,235.10 L487.70,234.63 L487.95,234.23 L488.20,233.91 L488.45,234.21 L488.70,234.63 L488.95,235.12 L489.20,235.73 L489.45,236.51 L489.70,237.53 L489.95,238.79 L490.20,239.92 L490.45,240.52 L490.70,240.79 L490.95,241.03 L491.20,241.23 L491.45,241.38 L491.70,241.51 L491.95,241.64 L492.20,241.72 L492.45,241.79 L492.70,241.82 L492.95,241.89 L493.20,241.94 L493.45,241.97 L493.70,242.01 L493.95,242.06 L494.20,242.08 L494.45,242.08 L494.70,242.09 L494.95,242.11 L495.20,242.12 L495.45,242.11 L495.70,242.17 L495.95,242.19 L496.20,242.19 L496.45,242.20 L496.70,242.18 L496.95,242.15 L497.20,242.14 L497.45,242.17 L497.70,242.15 L497.95,242.19 L498.20,242.24 L498.45,242.26 L498.70,242.25 L498.95,242.30 L499.20,242.31 L499.45,242.28 L499.70,242.29 L499.95,242.29 L500.20,242.27 L500.45,242.29 L500.70,242.27 L500.95,242.25 L501.20,242.29 L501.45,242.30 L501.70,242.29 L501.95,242.30 L502.20,242.30 L502.45,242.25 L502.70,242.25 L502.95,242.26 L503.20,242.29 L503.45,242.31 L503.70,242.34 L503.95,242.34 L504.20,242.36 L504.45,242.34 L504.70,242.35 L504.95,242.32 L505.20,242.32 L505.45,242.32 L505.70,242.32 L505.95,242.30 L506.20,242.30 L506.45,242.30 L506.70,242.28 L506.95,242.28 L507.20,242.27 L507.45,242.27 L507.70,242.28 L507.95,242.25 L508.20,242.25 L508.45,242.25 L508.70,242.25 L508.95,242.21 L509.20,242.19 L509.45,242.16 L509.70,242.14 L509.95,242.12 L510.20,242.15 L510.45,242.17 L510.70,242.17 L510.95,242.13 L511.20,242.15 L511.45,242.13 L511.70,242.11 L511.95,242.07 L512.20,242.06 L512.45,242.00 L512.70,241.93 L512.95,241.83 L513.20,241.71 L513.45,241.62 L513.70,241.54 L513.95,241.59 L514.20,241.68 L514.45,241.74 L514.70,241.75 L514.95,241.76 L515.20,241.79 L515.45,241.75 L515.70,241.76 L515.95,241.77 L516.20,241.81 L516.45,241.82 L516.70,241.83 L516.95,241.81 L517.20,241.80 L517.45,241.76 L517.70,241.75 L517.95,241.75 L518.20,241.76 L518.45,241.75 L518.70,241.76 L518.95,241.74 L519.20,241.74 L519.45,241.72 L519.70,241.74 L519.95,241.73 L520.20,241.69 L520.45,241.70 L520.70,241.70 L520.95,241.67 L521.20,241.71 L521.45,241.74 L521.70,241.70 L521.95,241.69 L522.20,241.70 L522.45,241.66 L522.70,241.67 L522.95,241.70 L523.20,241.69 L523.45,241.68 L523.70,241.69 L523.95,241.66 L524.20,241.63 L524.45,241.65 L524.70,241.64 L524.95,241.61 L525.20,241.60 L525.45,241.59 L525.70,241.57 L525.95,241.55 L526.20,241.58 L526.45,241.57 L526.70,241.55 L526.95,241.55 L527.20,241.52 L527.45,241.48 L527.70,241.49 L527.95,241.48 L528.20,241.46 L528.45,241.50 L528.70,241.51 L528.95,241.49 L529.20,241.51 L529.45,241.50 L529.70,241.48 L529.95,241.46 L530.20,241.48 L530.45,241.48 L530.70,241.47 L530.95,241.46 L531.20,241.45 L531.45,241.38 L531.70,241.35 L531.95,241.37 L532.20,241.33 L532.45,241.31 L532.70,241.33 L532.95,241.35 L533.20,241.30 L533.45,241.33 L533.70,241.31 L533.95,241.31 L534.20,241.27 L534.45,241.27 L534.70,241.24 L534.95,241.23 L535.20,241.18 L535.45,241.18 L535.70,241.16 L535.95,241.14 L536.20,241.10 L536.45,241.06 L536.70,240.99 L536.95,240.96 L537.20,240.93 L537.45,240.93 L537.70,240.92 L537.95,240.90 L538.20,240.84 L538.45,240.79 L538.70,240.73 L538.95,240.65 L539.20,240.63 L539.45,240.61 L539.70,240.59 L539.95,240.52 L540.20,240.49 L540.45,240.40 L540.70,240.29 L540.95,240.17 L541.20,240.09 L541.45,240.01 L541.70,239.92 L541.95,239.85 L542.20,239.74 L542.45,239.61 L542.70,239.47 L542.95,239.32 L543.20,239.15 L543.45,238.99 L543.70,238.80 L543.95,238.59 L544.20,238.32 L544.45,238.04 L544.70,237.72 L544.95,237.38 L545.20,236.97 L545.45,236.52 L545.70,235.99 L545.95,235.39 L546.20,234.69 L546.45,233.87 L546.70,232.98 L546.95,231.88 L547.20,230.53 L547.45,228.91 L547.70,226.97 L547.95,224.47 L548.20,221.42 L548.45,217.59 L548.70,211.89 L548.95,195.93 L549.20,175.66 L549.45,158.82 L549.70,146.30 L549.95,136.04 L550.20,128.01 L550.45,121.38 L550.70,116.51 L550.95,121.39 L551.20,128.03 L551.45,136.04 L551.70,146.31 L551.95,158.78 L552.20,175.60 L552.45,195.89 L552.70,211.84 L552.95,217.54 L553.20,221.40 L553.45,224.51 L553.70,226.98 L553.95,228.94 L554.20,230.56 L554.45,231.92 L554.70,232.99 L554.95,233.93 L555.20,234.75 L555.45,235.46 L555.70,236.02 L555.95,236.56 L556.20,236.97 L556.45,237.36 L556.70,237.70 L556.95,238.03 L557.20,238.27 L557.45,238.55 L557.70,238.78 L557.95,238.96 L558.20,239.13 L558.45,239.31 L558.70,239.44 L558.95,239.59 L559.20,239.72 L559.45,239.86 L559.70,239.98 L559.95,240.06 L560.20,240.14 L560.45,240.25 L560.70,240.30 L560.95,240.36 L561.20,240.43 L561.45,240.48 L561.70,240.51 L561.95,240.60 L562.20,240.65 L562.45,240.72 L562.70,240.79 L562.95,240.80 L563.20,240.84 L563.45,240.87 L563.70,240.90 L563.95,240.92 L564.20,240.96 L564.45,241.00 L564.70,241.01 L564.95,241.02 L565.20,241.04 L565.45,241.07 L565.70,241.08 L565.95,241.13 L566.20,241.17 L566.45,241.19 L566.70,241.25 L566.95,241.25 L567.20,241.25 L567.45,241.29 L567.70,241.32 L567.95,241.34 L568.20,241.36 L568.45,241.38 L568.70,241.38 L568.95,241.36 L569.20,241.33 L569.45,241.33 L569.70,241.34 L569.95,241.36 L570.20,241.37 L570.45,241.40 L570.70,241.42 L570.95,241.41 L571.20,241.37 L571.45,241.41 L571.70,241.42 L571.95,241.43 L572.20,241.45 L572.45,241.48 L572.70,241.47 L572.95,241.47 L573.20,241.49 L573.45,241.51 L573.70,241.51 L573.95,241.49 L574.20,241.50 L574.45,241.48 L574.70,241.48 L574.95,241.52 L575.20,241.53 L575.45,241.54 L575.70,241.57 L575.95,241.58 L576.20,241.56 L576.45,241.59 L576.70,241.59 L576.95,241.62 L577.20,241.63 L577.45,241.65 L577.70,241.63 L577.95,241.64 L578.20,241.61 L578.45,241.60 L578.70,241.60 L578.95,241.64 L579.20,241.64 L579.45,241.66 L579.70,241.66 L579.95,241.68 L580.20,241.66 L580.45,241.66 L580.70,241.68 L580.95,241.68 L581.20,241.67 L581.45,241.70 L581.70,241.73 L581.95,241.73 L582.20,241.71 L582.45,241.71 L582.70,241.70 L582.95,241.69 L583.20,241.68 L583.45,241.73 L583.70,241.75 L583.95,241.73 L584.20,241.71 L584.45,241.68 L584.70,241.68 L584.95,241.67 L585.20,241.68 L585.45,241.67 L585.70,241.70 L585.95,241.68 L586.20,241.68 L586.45,241.68 L586.70,241.69 L586.95,241.73 L587.20,241.71 L587.45,241.70 L587.70,241.70 L587.95,241.71 L588.20,241.68 L588.45,241.69 L588.70,241.69 L588.95,241.70 L589.20,241.71 L589.45,241.69 L589.70,241.73 L589.95,241.77 L590.20,241.75 L590.45,241.74 L590.70,241.77 L590.95,241.77 L591.20,241.77 L591.45,241.77 L591.70,241.76 L591.95,241.74 L592.20,241.73 L592.45,241.69 L592.70,241.73 L592.95,241.75 L593.20,241.77 L593.45,241.74 L593.70,241.76 L593.95,241.76 L594.20,241.75 L594.45,241.76 L594.70,241.78 L594.95,241.80 L595.20,241.79 L595.45,241.82 L595.70,241.83 L595.95,241.82 L596.20,241.81 L596.45,241.82 L596.70,241.78 L596.95,241.77 L597.20,241.79 L597.45,241.78 L597.70,241.78 L597.95,241.80 L598.20,241.79 L598.45,241.77 L598.70,241.81 L598.95,241.80 L599.20,241.79 L599.45,241.81 L599.70,241.83 L599.95,241.78 L600.20,241.79 L600.45,241.79 L600.70,241.77 L600.95,241.77 L601.20,241.80 L601.45,241.81 L601.70,241.82 L601.95,241.84 L602.20,241.84 L602.45,241.81 L602.70,241.84 L602.95,241.83 L603.20,241.83 L603.45,241.78 L603.70,241.80 L603.95,241.75 L604.20,241.78 L604.45,241.78 L604.70,241.80 L604.95,241.80 L605.20,241.82 L605.45,241.79 L605.70,241.77 L605.95,241.76 L606.20,241.77 L606.45,241.76 L606.70,241.74 L606.95,241.75 L607.20,241.76 L607.45,241.76 L607.70,241.74 L607.95,241.74 L608.20,241.75 L608.45,241.71 L608.70,241.65 L608.95,241.62 L609.20,241.55 L609.45,241.44 L609.70,241.34 L609.95,241.21 L610.20,241.08 L610.45,240.98 L610.70,240.92 L610.95,240.97 L611.20,241.09 L611.45,241.21 L611.70,241.35 L611.95,241.49 L612.20,241.56 L612.45,241.62 L612.70,241.63 L612.95,241.66 L613.20,241.67 L613.45,241.70 L613.70,241.71 L613.95,241.73 L614.20,241.72 L614.45,241.73 L614.70,241.78 L614.95,241.78 L615.20,241.82 L615.45,241.85 L615.70,241.82 L615.95,241.81 L616.20,241.84 L616.45,241.82 L616.70,241.83 L616.95,241.87 L617.20,241.86 L617.45,241.86 L617.70,241.87 L617.95,241.86 L618.20,241.81 L618.45,241.79 L618.70,241.78 L618.95,241.77 L619.20,241.76 L619.45,241.78 L619.70,241.83 L619.95,241.81 L620.20,241.81 L620.45,241.84 L620.70,241.86 L620.95,241.82 L621.20,241.85 L621.45,241.82 L621.70,241.84 L621.95,241.82 L622.20,241.84 L622.45,241.83 L622.70,241.85 L622.95,241.81 L623.20,241.82 L623.45,241.83 L623.70,241.84 L623.95,241.86 L624.20,241.89 L624.45,241.89 L624.70,241.89 L624.95,241.92 L625.20,241.88 L625.45,241.87 L625.70,241.86 L625.95,241.86 L626.20,241.84 L626.45,241.85 L626.70,241.86 L626.95,241.85 L627.20,241.84 L627.45,241.84 L627.70,241.79 L627.95,241.80 L628.20,241.79 L628.45,241.77 L628.70,241.75 L628.95,241.76 L629.20,241.69 L629.45,241.65 L629.70,241.61 L629.95,241.53 L630.20,241.45 L630.45,241.40 L630.70,241.43 L630.95,241.52 L631.20,241.62 L631.45,241.68 L631.70,241.73 L631.95,241.74 L632.20,241.77 L632.45,241.75 L632.70,241.77 L632.95,241.81 L633.20,241.89 L633.45,241.88 L633.70,241.90 L633.95,241.91 L634.20,241.90 L634.45,241.88 L634.70,241.89 L634.95,241.88 L635.20,241.85 L635.45,241.85 L635.70,241.82 L635.95,241.83 L636.20,241.82 L636.45,241.86 L636.70,241.84 L636.95,241.84 L637.20,241.84 L637.45,241.87 L637.70,241.86 L637.95,241.88 L638.20,241.88 L638.45,241.86 L638.70,241.84 L638.95,241.88 L639.20,241.87 L639.45,241.89 L639.70,241.91 L639.95,241.92 L640.20,241.89 L640.45,241.86 L640.70,241.86 L640.95,241.85 L641.20,241.84 L641.45,241.86 L641.70,241.86 L641.95,241.86 L642.20,241.83 L642.45,241.82 L642.70,241.80 L642.95,241.85 L643.20,241.82 L643.45,241.83 L643.70,241.83 L643.95,241.86 L644.20,241.85 L644.45,241.87 L644.70,241.92 L644.95,241.94 L645.20,241.88 L645.45,241.86 L645.70,241.84 L645.95,241.84 L646.20,241.81 L646.45,241.85 L646.70,241.85 L646.95,241.86 L647.20,241.83 L647.45,241.85 L647.70,241.83 L647.95,241.82 L648.20,241.82 L648.45,241.80 L648.70,241.79 L648.95,241.80 L649.20,241.81 L649.45,241.83 L649.70,241.84 L649.95,241.88 L650.20,241.87 L650.45,241.85 L650.70,241.86 L650.95,241.85 L651.20,241.83 L651.45,241.85 L651.70,241.86 L651.95,241.84 L652.20,241.86 L652.45,241.87 L652.70,241.84 L652.95,241.82 L653.20,241.82 L653.45,241.78 L653.70,241.76 L653.95,241.75 L654.20,241.77 L654.45,241.79 L654.70,241.80 L654.95,241.80 L655.20,241.80 L655.45,241.77 L655.70,241.75 L655.95,241.77 L656.20,241.78 L656.45,241.80 L656.70,241.81 L656.95,241.77 L657.20,241.77 L657.45,241.78 L657.70,241.78 L657.95,241.79 L658.20,241.84 L658.45,241.85 L658.70,241.83 L658.95,241.83 L659.20,241.82 L659.45,241.80 L659.70,241.75 L659.95,241.73 L660.20,241.67 L660.45,241.65 L660.70,241.62 L660.95,241.58 L661.20,241.55 L661.45,241.52 L661.70,241.50 L661.95,241.47 L662.20,241.44 L662.45,241.38 L662.70,241.33 L662.95,241.25 L663.20,241.16 L663.45,241.07 L663.70,240.99 L663.95,240.89 L664.20,240.70 L664.45,240.50 L664.70,240.23 L664.95,239.89 L665.20,239.53 L665.45,239.10 L665.70,238.71 L665.95,238.36 L666.20,238.17 L666.45,238.16 L666.70,238.40 L666.95,238.74 L667.20,239.16 L667.45,239.56 L667.70,239.90 L667.95,240.19 L668.20,240.45 L668.45,240.69 L668.70,240.88 L668.95,241.02 L669.20,241.13 L669.45,241.21 L669.70,241.27 L669.95,241.31 L670.20,241.39 L670.45,241.45 L670.70,241.49 L670.95,241.52 L671.20,241.56 L671.45,241.58 L671.70,241.59 L671.95,241.62 L672.20,241.66 L672.45,241.72 L672.70,241.73 L672.95,241.76 L673.20,241.76 L673.45,241.77 L673.70,241.77 L673.95,241.77 L674.20,241.78"/>
<path stroke="#222" stroke-width="0.9" d="M386.80,170.30 L387.00,170.33 L387.20,170.30 L387.40,170.32 L387.60,170.36 L387.80,170.45 L388.00,170.56 L388.20,170.63 L388.40,170.60 L388.60,170.60 L388.80,170.62 L389.00,170.59 L389.20,170.67 L389.40,170.65 L389.60,170.69 L389.80,170.80 L390.00,170.83 L390.20,170.91 L390.40,170.94 L390.60,170.90 L390.80,170.86 L391.00,170.88 L391.20,170.89 L391.40,170.90 L391.60,170.88 L391.80,170.90 L392.00,170.98 L392.20,171.09 L392.40,171.18 L392.60,171.17 L392.80,171.01 L393.00,170.97 L393.20,171.03 L393.40,171.07 L393.60,171.11 L393.80,171.21 L394.00,171.21 L394.20,171.23 L394.40,171.31 L394.60,171.28 L394.80,171.24 L395.00,171.23 L395.20,171.28 L395.40,171.25 L395.60,171.31 L395.80,171.28 L396.00,171.29 L396.20,171.36 L396.40,171.26 L396.60,171.30 L396.80,171.29 L397.00,171.24 L397.20,171.31 L397.40,171.29 L397.60,171.20 L397.80,171.22 L398.00,171.28 L398.20,171.29 L398.40,171.39 L398.60,171.42 L398.80,171.40 L399.00,171.38 L399.20,171.35 L399.40,171.38 L399.60,171.38 L399.80,171.38 L400.00,171.32 L400.20,171.20 L400.40,171.15 L400.60,171.14 L400.80,171.09 L401.00,171.12 L401.20,171.12 L401.40,171.10 L401.60,171.14 L401.80,171.20 L402.00,171.21 L402.20,171.14 L402.40,171.12 L402.60,171.06 L402.80,171.03 L403.00,171.07 L403.20,171.09 L403.40,171.04 L403.60,170.99 L403.80,170.93 L404.00,170.94 L404.20,170.84 L404.40,170.82 L404.60,170.88 L404.80,170.82 L405.00,170.87 L405.20,170.95 L405.40,170.93 L405.60,170.94 L405.80,170.95 L406.00,170.86 L406.20,170.79 L406.40,170.77 L406.60,170.75 L406.80,170.76 L407.00,170.74 L407.20,170.67 L407.40,170.63 L407.60,170.59 L407.80,170.55 L408.00,170.51 L408.20,170.59 L408.40,170.59 L408.60,170.59 L408.80,170.64 L409.00,170.58 L409.20,170.59 L409.40,170.56 L409.60,170.57 L409.80,170.51 L410.00,170.45 L410.20,170.40 L410.40,170.30 L410.60,170.30 L410.80,170.26 L411.00,170.30 L411.20,170.32 L411.40,170.34 L411.60,170.32 L411.80,170.33 L412.00,170.31 L412.20,170.29 L412.40,170.26 L412.60,170.19 L412.80,170.21 L413.00,170.06 L413.20,170.00 L413.40,170.04 L413.60,169.92 L413.80,169.94 L414.00,169.97 L414.20,169.93 L414.40,169.94 L414.60,169.94 L414.80,169.85 L415.00,169.75 L415.20,169.78 L415.40,169.76 L415.60,169.76 L415.80,169.76 L416.00,169.70 L416.20,169.66 L416.40,169.62 L416.60,169.53 L416.80,169.52 L417.00,169.43 L417.20,169.45 L417.40,169.53 L417.60,169.52 L417.80,169.61 L418.00,169.49 L418.20,169.39 L418.40,169.26 L418.60,169.10 L418.80,169.03 L419.00,168.92 L419.20,168.92 L419.40,168.90 L419.60,168.93 L419.80,168.92 L420.00,168.81 L420.20,168.63 L420.40,168.43 L420.60,167.99 L420.80,167.42 L421.00,166.95 L421.20,166.57 L421.40,166.24 L421.60,166.03 L421.80,165.89 L422.00,165.90 L422.20,166.06 L422.40,166.23 L422.60,166.44 L422.80,166.80 L423.00,167.30 L423.20,167.84 L423.40,168.32 L423.60,168.49 L423.80,168.73 L424.00,168.85 L424.20,168.95 L424.40,168.96 L424.60,168.85 L424.80,168.92 L425.00,169.00 L425.20,169.02 L425.40,169.09 L425.60,169.11 L425.80,169.05 L426.00,169.01 L426.20,169.05 L426.40,169.01 L426.60,169.04 L426.80,169.09 L427.00,169.08 L427.20,169.12 L427.40,169.07 L427.60,169.11 L427.80,169.05 L428.00,168.99 L428.20,168.98 L428.40,168.93 L428.60,168.92 L428.80,168.97 L429.00,168.99 L429.20,168.95 L429.40,169.01 L429.60,168.98 L429.80,169.01 L430.00,169.03 L430.20,169.00 L430.40,168.96 L430.60,168.87 L430.80,168.87 L431.00,168.83 L431.20,168.83 L431.40,168.88 L431.60,168.79 L431.80,168.78 L432.00,168.73 L432.20,168.67 L432.40,168.73 L432.60,168.71 L432.80,168.69 L433.00,168.71 L433.20,168.67 L433.40,168.67 L433.60,168.72 L433.80,168.65 L434.00,168.59 L434.20,168.53 L434.40,168.49 L434.60,168.49 L434.80,168.45 L435.00,168.36 L435.20,168.26 L435.40,168.19 L435.60,168.22 L435.80,168.25 L436.00,168.28 L436.20,168.27 L436.40,168.27 L436.60,168.23 L436.80,168.18 L437.00,168.13 L437.20,168.04 L437.40,168.04 L437.60,168.00 L437.80,168.02 L438.00,167.94 L438.20,167.87 L438.40,167.85 L438.60,167.77 L438.80,167.73 L439.00,167.66 L439.20,167.52 L439.40,167.47 L439.60,167.47 L439.80,167.43 L440.00,167.37 L440.20,167.25 L440.40,167.06 L440.60,167.02 L440.80,166.91 L441.00,166.86 L441.20,166.81 L441.40,166.66 L441.60,166.60 L441.80,166.54 L442.00,166.54 L442.20,166.44 L442.40,166.41 L442.60,166.34 L442.80,166.25 L443.00,166.19 L443.20,166.13 L443.40,166.03 L443.60,165.88 L443.80,165.80 L444.00,165.69 L444.20,165.63 L444.40,165.62 L444.60,165.65 L444.80,165.58 L445.00,165.58 L445.20,165.54 L445.40,165.42 L445.60,165.36 L445.80,165.30 L446.00,165.26 L446.20,165.21 L446.40,165.18 L446.60,165.10 L446.80,164.97 L447.00,164.92 L447.20,164.87 L447.40,164.86 L447.60,164.79 L447.80,164.67 L448.00,164.58 L448.20,164.40 L448.40,164.33 L448.60,164.25 L448.80,164.11 L449.00,163.99 L449.20,163.86 L449.40,163.62 L449.60,163.43 L449.80,163.09 L450.00,162.82 L450.20,162.54 L450.40,161.92 L450.60,160.63 L450.80,158.78 L451.00,157.11 L451.20,155.87 L451.40,154.79 L451.60,153.90 L451.80,153.19 L452.00,152.53 L452.20,152.00 L452.40,151.95 L452.60,152.33 L452.80,152.98 L453.00,153.71 L453.20,154.55 L453.40,155.64 L453.60,156.85 L453.80,158.35 L454.00,160.12 L454.20,161.47 L454.40,162.06 L454.60,162.52 L454.80,162.86 L455.00,163.10 L455.20,163.26 L455.40,163.34 L455.60,163.44 L455.80,163.57 L456.00,163.59 L456.20,163.72 L456.40,163.83 L456.60,163.95 L456.80,164.11 L457.00,164.13 L457.20,164.13 L457.40,164.10 L457.60,164.15 L457.80,164.19 L458.00,164.21 L458.20,164.22 L458.40,164.22 L458.60,164.31 L458.80,164.37 L459.00,164.45 L459.20,164.48 L459.40,164.55 L459.60,164.57 L459.80,164.63 L460.00,164.69 L460.20,164.69 L460.40,164.82 L460.60,164.89 L460.80,164.93 L461.00,165.00 L461.20,165.03 L461.40,165.05 L461.60,165.08 L461.80,165.01 L462.00,165.01 L462.20,165.00 L462.40,164.97 L462.60,165.03 L462.80,164.98 L463.00,165.00 L463.20,165.04 L463.40,165.07 L463.60,165.13 L463.80,165.19 L464.00,165.27 L464.20,165.29 L464.40,165.25 L464.60,165.16 L464.80,165.05 L465.00,164.96 L465.20,164.90 L465.40,164.86 L465.60,164.78 L465.80,164.74 L466.00,164.81 L466.20,164.88 L466.40,164.85 L466.60,164.79 L466.80,164.64 L467.00,164.47 L467.20,164.45 L467.40,164.41 L467.60,164.39 L467.80,164.43 L468.00,164.38 L468.20,164.39 L468.40,164.36 L468.60,164.35 L468.80,164.33 L469.00,164.28 L469.20,164.30 L469.40,164.20 L469.60,164.16 L469.80,164.13 L470.00,164.08 L470.20,164.12 L470.40,164.09 L470.60,164.03 L470.80,164.02 L471.00,164.00 L471.20,163.98 L471.40,164.06 L471.60,164.07 L471.80,164.07 L472.00,164.11 L472.20,164.02 L472.40,164.06 L472.60,163.99 L472.80,163.97 L473.00,164.01 L473.20,163.94 L473.40,163.96 L473.60,163.91 L473.80,163.87 L474.00,163.85 L474.20,163.89 L474.40,163.89 L474.60,163.92 L474.80,163.94 L475.00,163.89 L475.20,163.90 L475.40,163.87 L475.60,163.80 L475.80,163.81 L476.00,163.86 L476.20,163.86 L476.40,163.96 L476.60,163.99 L476.80,163.98 L477.00,164.05 L477.20,164.04 L477.40,164.14 L477.60,164.16 L477.80,164.13 L478.00,164.16 L478.20,164.11 L478.40,164.22 L478.60,164.28 L478.80,164.32 L479.00,164.40 L479.20,164.43 L479.40,164.44 L479.60,164.48 L479.80,164.38 L480.00,164.36 L480.20,164.45 L480.40,164.43 L480.60,164.45 L480.80,164.46 L481.00,164.32 L481.20,164.41 L481.40,164.41 L481.60,164.37 L481.80,164.43 L482.00,164.40 L482.20,164.44 L482.40,164.37 L482.60,164.28 L482.80,164.21 L483.00,164.08 L483.20,164.09 L483.40,164.08 L483.60,164.05 L483.80,164.12 L484.00,163.99 L484.20,163.98 L484.40,163.93 L484.60,163.81 L484.80,163.83 L485.00,163.72 L485.20,163.64 L485.40,163.64 L485.60,163.66 L485.80,163.72 L486.00,163.68 L486.20,163.61 L486.40,163.57 L486.60,163.39 L486.80,163.32 L487.00,163.35 L487.20,163.36 L487.40,163.41 L487.60,163.43 L487.80,163.35 L488.00,163.24 L488.20,163.24 L488.40,163.18 L488.60,163.21 L488.80,163.18 L489.00,163.17 L489.20,163.15 L489.40,163.06 L489.60,163.04 L489.80,163.01 L490.00,162.95 L490.20,162.99 L490.40,162.94 L490.60,162.82 L490.80,162.77 L491.00,162.62 L491.20,162.48 L491.40,162.43 L491.60,162.36 L491.80,162.27 L492.00,162.20 L492.20,162.08 L492.40,161.99 L492.60,161.99 L492.80,161.92 L493.00,161.89 L493.20,161.84 L493.40,161.80 L493.60,161.88 L493.80,161.85 L494.00,161.80 L494.20,161.80 L494.40,161.72 L494.60,161.85 L494.80,161.94 L495.00,161.98 L495.20,162.09 L495.40,162.09 L495.60,162.14 L495.80,162.20 L496.00,162.27 L496.20,162.29 L496.40,162.40 L496.60,162.45 L496.80,162.36 L497.00,162.42 L497.20,162.31 L497.40,162.32 L497.60,162.50 L497.80,162.52 L498.00,162.56 L498.20,162.53 L498.40,162.47 L498.60,162.49 L498.80,162.52 L499.00,162.60 L499.20,162.62 L499.40,162.57 L499.60,162.60 L499.80,162.63 L500.00,162.57 L500.20,162.54 L500.40,162.59 L500.60,162.57 L500.80,162.58 L501.00,162.59 L501.20,162.51 L501.40,162.47 L501.60,162.44 L501.80,162.45 L502.00,162.41 L502.20,162.28 L502.40,162.16 L502.60,161.95 L502.80,161.76 L503.00,161.34 L503.20,160.58 L503.40,159.62 L503.60,158.53 L503.80,157.17 L504.00,155.47 L504.20,154.00 L504.40,152.85 L504.60,151.81 L504.80,151.19 L505.00,151.19 L505.20,152.07 L505.40,153.28 L505.60,154.42 L505.80,155.56 L506.00,156.68 L506.20,157.62 L506.40,158.21 L506.60,158.72 L506.80,159.13 L507.00,159.47 L507.20,159.71 L507.40,159.81 L507.60,159.89 L507.80,159.86 L508.00,159.84 L508.20,159.79 L508.40,159.70 L508.60,159.62 L508.80,159.53 L509.00,159.39 L509.20,159.24 L509.40,159.13 L509.60,158.91 L509.80,158.80 L510.00,158.71 L510.20,158.54 L510.40,158.43 L510.60,158.32 L510.80,158.09 L511.00,157.93 L511.20,157.64 L511.40,157.34 L511.60,157.04 L511.80,156.69 L512.00,156.45 L512.20,156.02 L512.40,155.56 L512.60,154.93 L512.80,154.21 L513.00,153.37 L513.20,152.43 L513.40,151.57 L513.60,150.40 L513.80,149.37 L514.00,148.95 L514.20,149.43 L514.40,150.33 L514.60,151.43 L514.80,152.52 L515.00,153.54 L515.20,154.63 L515.40,155.54 L515.60,156.10 L515.80,156.50 L516.00,156.90 L516.20,157.22 L516.40,157.60 L516.60,157.98 L516.80,158.33 L517.00,158.62 L517.20,158.82 L517.40,158.96 L517.60,159.07 L517.80,159.30 L518.00,159.56 L518.20,159.69 L518.40,159.83 L518.60,159.93 L518.80,159.89 L519.00,160.03 L519.20,160.10 L519.40,160.12 L519.60,160.24 L519.80,160.26 L520.00,160.26 L520.20,160.34 L520.40,160.35 L520.60,160.37 L520.80,160.42 L521.00,160.45 L521.20,160.45 L521.40,160.50 L521.60,160.59 L521.80,160.58 L522.00,160.66 L522.20,160.61 L522.40,160.60 L522.60,160.63 L522.80,160.65 L523.00,160.70 L523.20,160.71 L523.40,160.69 L523.60,160.58 L523.80,160.55 L524.00,160.49 L524.20,160.52 L524.40,160.53 L524.60,160.56 L524.80,160.61 L525.00,160.62 L525.20,160.68 L525.40,160.73 L525.60,160.65 L525.80,160.59 L526.00,160.56 L526.20,160.55 L526.40,160.60 L526.60,160.59 L526.80,160.56 L527.00,160.46 L527.20,160.47 L527.40,160.43 L527.60,160.44 L527.80,160.53 L528.00,160.52 L528.20,160.52 L528.40,160.52 L528.60,160.46 L528.80,160.41 L529.00,160.51 L529.20,160.50 L529.40,160.44 L529.60,160.39 L529.80,160.34 L530.00,160.31 L530.20,160.29 L530.40,160.24 L530.60,160.17 L530.80,160.11 L531.00,160.15 L531.20,160.15 L531.40,160.15 L531.60,160.17 L531.80,160.04 L532.00,160.00 L532.20,159.99 L532.40,159.89 L532.60,159.90 L532.80,159.91 L533.00,159.78 L533.20,159.74 L533.40,159.63 L533.60,159.57 L533.80,159.53 L534.00,159.48 L534.20,159.40 L534.40,159.37 L534.60,159.36 L534.80,159.30 L535.00,159.38 L535.20,159.22 L535.40,159.14 L535.60,159.07 L535.80,159.07 L536.00,159.02 L536.20,158.94 L536.40,158.93 L536.60,158.82 L536.80,158.90 L537.00,158.91 L537.20,158.89 L537.40,158.90 L537.60,158.80 L537.80,158.76 L538.00,158.79 L538.20,158.63 L538.40,158.58 L538.60,158.57 L538.80,158.48 L539.00,158.44 L539.20,158.42 L539.40,158.41 L539.60,158.34 L539.80,158.37 L540.00,158.33 L540.20,158.19 L540.40,158.21 L540.60,158.17 L540.80,158.17 L541.00,158.14 L541.20,158.04 L541.40,157.97 L541.60,157.90 L541.80,157.85 L542.00,157.78 L542.20,157.77 L542.40,157.68 L542.60,157.63 L542.80,157.59 L543.00,157.48 L543.20,157.43 L543.40,157.37 L543.60,157.37 L543.80,157.33 L544.00,157.31 L544.20,157.35 L544.40,157.23 L544.60,157.24 L544.80,157.23 L545.00,157.08 L545.20,157.07 L545.40,156.98 L545.60,156.97 L545.80,157.01 L546.00,156.98 L546.20,156.91 L546.40,156.77 L546.60,156.69 L546.80,156.61 L547.00,156.61 L547.20,156.62 L547.40,156.61 L547.60,156.66 L547.80,156.63 L548.00,156.62 L548.20,156.57 L548.40,156.53 L548.60,156.53 L548.80,156.53 L549.00,156.56 L549.20,156.47 L549.40,156.36 L549.60,156.29 L549.80,156.26 L550.00,156.23 L550.20,156.31 L550.40,156.26 L550.60,156.19 L550.80,156.20 L551.00,156.08 L551.20,155.99 L551.40,155.96 L551.60,155.88 L551.80,155.90 L552.00,155.93 L552.20,155.83 L552.40,155.82 L552.60,155.82 L552.80,155.71 L553.00,155.77 L553.20,155.73 L553.40,155.62 L553.60,155.72 L553.80,155.75 L554.00,155.76 L554.20,155.79 L554.40,155.78 L554.60,155.77 L554.80,155.76 L555.00,155.79 L555.20,155.73 L555.40,155.66 L555.60,155.66 L555.80,155.60 L556.00,155.60 L556.20,155.58 L556.40,155.53 L556.60,155.51 L556.80,155.49 L557.00,155.52 L557.20,155.54 L557.40,155.52 L557.60,155.51 L557.80,155.44 L558.00,155.37 L558.20,155.38 L558.40,155.38 L558.60,155.43 L558.80,155.48 L559.00,155.52 L559.20,155.52 L559.40,155.47 L559.60,155.47 L559.80,155.40 L560.00,155.38 L560.20,155.40 L560.40,155.36 L560.60,155.31 L560.80,155.27 L561.00,155.23 L561.20,155.22 L561.40,155.24 L561.60,155.19 L561.80,155.13 L562.00,155.14 L562.20,155.16 L562.40,155.19 L562.60,155.22 L562.80,155.25 L563.00,155.22 L563.20,155.18 L563.40,155.18 L563.60,155.06 L563.80,155.01 L564.00,154.95 L564.20,154.87 L564.40,154.79 L564.60,154.65 L564.80,154.55 L565.00,154.45 L565.20,154.29 L565.40,154.15 L565.60,153.94 L565.80,153.78 L566.00,153.63 L566.20,153.50 L566.40,153.31 L566.60,153.06 L566.80,152.72 L567.00,152.28 L567.20,151.86 L567.40,151.27 L567.60,150.66 L567.80,150.01 L568.00,149.08 L568.20,147.89 L568.40,146.40 L568.60,144.40 L568.80,142.09 L569.00,138.48 L569.20,133.33 L569.40,127.71 L569.60,122.16 L569.80,116.41 L570.00,110.13 L570.20,103.00 L570.40,93.78 L570.60,84.96 L570.80,78.66 L571.00,73.38 L571.20,68.53 L571.40,63.61 L571.60,58.80 L571.80,54.23 L572.00,50.00 L572.20,45.33 L572.40,41.00 L572.60,39.07 L572.80,41.47 L573.00,46.98 L573.20,53.30 L573.40,61.76 L573.60,69.96 L573.80,77.77 L574.00,84.98 L574.20,90.83 L574.40,96.22 L574.60,102.98 L574.80,114.07 L575.00,125.04 L575.20,132.64 L575.40,138.34 L575.60,140.65 L575.80,142.11 L576.00,143.24 L576.20,144.06 L576.40,144.80 L576.60,145.39 L576.80,145.94 L577.00,146.47 L577.20,146.99 L577.40,147.42 L577.60,147.84 L577.80,148.16 L578.00,148.46 L578.20,148.83 L578.40,149.10 L578.60,149.40 L578.80,149.66 L579.00,149.79 L579.20,149.85 L579.40,149.91 L579.60,149.92 L579.80,149.99 L580.00,150.07 L580.20,150.15 L580.40,150.23 L580.60,150.25 L580.80,150.44 L581.00,150.56 L581.20,150.59 L581.40,150.72 L581.60,150.67 L581.80,150.61 L582.00,150.72 L582.20,150.74 L582.40,150.81 L582.60,150.94 L582.80,150.93 L583.00,150.93 L583.20,150.93 L583.40,150.90 L583.60,150.92 L583.80,150.90 L584.00,150.89 L584.20,150.80 L584.40,150.69 L584.60,150.69 L584.80,150.61 L585.00,150.63 L585.20,150.62 L585.40,150.47 L585.60,150.36 L585.80,150.24 L586.00,150.12 L586.20,150.02 L586.40,149.93 L586.60,149.84 L586.80,149.76 L587.00,149.69 L587.20,149.53 L587.40,149.36 L587.60,149.19"/>
</g>
<g stroke="#111" stroke-width="0.7" fill="none">
<line x1="207.7" y1="57.8" x2="199.2" y2="78.9" marker-end="url(#ah)"/>
<line x1="156.6" y1="83.6" x2="149.7" y2="99.9" marker-end="url(#ah)"/>
<line x1="157.5" y1="223.8" x2="148.6" y2="241.9" marker-end="url(#ah)"/>
<line x1="228.3" y1="231.5" x2="228.4" y2="241.8" marker-end="url(#ah)"/>
<line x1="523.3" y1="131.6" x2="515.0" y2="147.6" marker-end="url(#ah)"/>
<line x1="519.3" y1="225.2" x2="514.1" y2="237.6" marker-end="url(#ah)"/>
<line x1="609.0" y1="227.9" x2="609.0" y2="236.5" marker-end="url(#ah)"/>
</g>
<text transform="translate(2.00 15.10) scale(1.040 1)" font-size="17.00" font-weight="bold">(a)</text>
<text transform="translate(338.00 15.10) scale(1.040 1)" font-size="17.00" font-weight="bold">(b)</text>
<text transform="translate(49.80 46.70) scale(1.045 1)" font-size="17.50" >Mg<tspan font-size="10.3" dy="6.9">0.8</tspan><tspan dy="-6.9">Fe</tspan><tspan font-size="10.3" dy="6.9">0.2</tspan><tspan dy="-6.9">CO</tspan><tspan font-size="10.3" dy="6.9">3</tspan></text>
<text transform="translate(380.50 41.80) scale(1.033 1)" font-size="17.50" >Mg<tspan font-size="10.3" dy="6.9">0.91</tspan><tspan dy="-6.9">Fe</tspan><tspan font-size="10.3" dy="6.9">0.09</tspan><tspan dy="-6.9">CO</tspan><tspan font-size="10.3" dy="6.9">3</tspan></text>
<text x="94.7" y="283.9" font-size="14.2" text-anchor="middle">500</text>
<text x="447.7" y="283.1" font-size="14.2" text-anchor="middle">500</text>
<text x="166.4" y="283.9" font-size="14.2" text-anchor="middle">1000</text>
<text x="534.8" y="283.1" font-size="14.2" text-anchor="middle">1000</text>
<text x="238.1" y="283.9" font-size="14.2" text-anchor="middle">1500</text>
<text x="621.9" y="283.1" font-size="14.2" text-anchor="middle">1500</text>
<text transform="translate(98.00 311.90) scale(1.030 1)" font-size="17.50" >Raman shift, cm<tspan font-size="10" dy="-7.1">-1</tspan></text>
<text transform="translate(469.30 312.40) scale(1.025 1)" font-size="17.50" >Raman shift, cm<tspan font-size="10" dy="-7.1">-1</tspan></text>
<text transform="translate(15.0,205.6) rotate(-90) scale(1.02 1)" font-size="17.5">Intensity a.u.</text>
<text transform="translate(353.2,196.0) rotate(-90) scale(1.03 1)" font-size="17.5">Intensity a.u.</text>
<text transform="translate(209.80 62.60) scale(1.005 1)" font-size="17.20" >1220 cm<tspan font-size="10" dy="-8.7" dx="0.5">-1</tspan></text>
<text transform="translate(212.20 97.60) scale(1.030 1)" font-size="17.50" >42 GPa</text>
<text transform="translate(589.80 155.30) scale(1.030 1)" font-size="17.50" >52GPa</text>
<text transform="scale(1.035 1)" font-size="17.5" y="262.7" x="228.99 236.91 239.71 246.76 254.59 256.04 269.76 281.16">0,01 GPa</text>
<text transform="scale(1.035 1)" font-size="17.5" y="259.8" x="618.16 625.41 628.50 635.27 641.93 656.04 667.15">0,01GPa</text>
<text x="69.9" y="116.1" font-size="17.3" text-anchor="middle">T</text>
<text x="94.0" y="103.4" font-size="17.3" text-anchor="middle">L</text>
<text x="57.7" y="225.7" font-size="17.3" text-anchor="middle">T</text>
<text x="74.7" y="148.2" font-size="17.3" text-anchor="middle">L</text>
<text x="421.0" y="163.0" font-size="17.3" text-anchor="middle">T</text>
<text x="453.6" y="145.7" font-size="17.3" text-anchor="middle">L</text>
<text x="398.4" y="220.0" font-size="17.3" text-anchor="middle">T</text>
<text x="424.4" y="194.1" font-size="17.3" text-anchor="middle">L</text>
<text class="s" transform="translate(195.6 35.3) scale(1.12 1)" font-size="15.4">&#957;</text>
<text x="203.6" y="42.5" font-size="10">1</text>
<text class="s" transform="translate(129.0 88.5) scale(1.12 1)" font-size="15.4">&#957;</text>
<text x="137.0" y="95.7" font-size="10">4</text>
<text class="s" transform="translate(181.5 139.2) scale(1.12 1)" font-size="15.4">&#957;</text>
<text x="189.5" y="147.2" font-size="10">1</text>
<text class="s" transform="translate(124.9 232.8) scale(1.12 1)" font-size="15.4">&#957;</text>
<text x="132.9" y="239.5" font-size="10">4</text>
<text class="s" transform="translate(224.3 229.8) scale(1.12 1)" font-size="15.4">&#957;</text>
<text x="232.3" y="237.0" font-size="10">3</text>
<text class="s" transform="translate(264.7 237.7) scale(1.12 1)" font-size="15.4"><tspan font-size="16.5">2</tspan>&#957;</text>
<text x="281.9" y="244.9" font-size="10">2</text>
<text class="s" transform="translate(575.5 37.2) scale(1.12 1)" font-size="15.4">&#957;</text>
<text x="583.5" y="44.4" font-size="10">1</text>
<text class="s" transform="translate(496.1 142.0) scale(1.12 1)" font-size="15.4">&#957;</text>
<text x="504.1" y="150.2" font-size="10">4</text>
<text class="s" transform="translate(555.1 184.1) scale(1.12 1)" font-size="15.4">&#957;</text>
<text x="563.1" y="192.0" font-size="10">1</text>
<text class="s" transform="translate(483.9 225.2) scale(1.12 1)" font-size="15.4">&#957;</text>
<text x="491.9" y="232.9" font-size="10">4</text>
<text class="s" transform="translate(605.9 224.7) scale(1.12 1)" font-size="15.4">&#957;</text>
<text x="613.9" y="231.9" font-size="10">3</text>
<text class="s" transform="translate(658.4 234.8) scale(1.12 1)" font-size="15.4"><tspan font-size="16.5">2</tspan>&#957;</text>
<text x="675.6" y="242.0" font-size="10">2</text>
<text x="159.6" y="91.8" font-size="24" text-anchor="middle" style="stroke-width:0.5px">*</text>
<text x="160.0" y="232.7" font-size="24" text-anchor="middle" style="stroke-width:0.5px">*</text>
<text x="526.3" y="139.3" font-size="24" text-anchor="middle" style="stroke-width:0.5px">*</text>
<text x="522.5" y="231.4" font-size="24" text-anchor="middle" style="stroke-width:0.5px">*</text>
</svg></body></html>
